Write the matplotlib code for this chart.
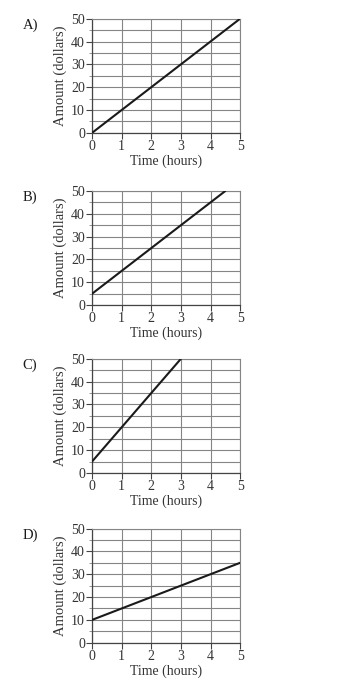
import matplotlib
matplotlib.use("Agg")
import matplotlib.pyplot as plt
import numpy as np

# answer choices: line endpoints (hours, dollars)
labels = ["A)", "B)", "C)", "D)"]
x_start = [0, 0, 0, 0]
y_start = [0, 5, 5, 10]
x_end = [5, 4.5, 3, 5]
y_end = [50, 50, 50, 35]

x_ticks = [0, 1, 2, 3, 4, 5]
y_ticks = [0, 10, 20, 30, 40, 50]

plt.rcParams["font.family"] = ["Liberation Serif", "DejaVu Serif"]

fig = plt.figure(figsize=(3.46, 6.92), dpi=100)

bottoms = [0.808, 0.559, 0.3165, 0.0712]
text_col = "#333333"
grid_col = "#858585"

for i in range(4):
    ax = fig.add_axes([0.266, bottoms[i], 0.428, 0.165])
    ax.plot([x_start[i], x_end[i]], [y_start[i], y_end[i]],
            color="#1a1a1a", lw=1.5, solid_capstyle="round", zorder=3)
    ax.set_xlim(0, 5)
    ax.set_ylim(0, 50)
    ax.set_xticks(x_ticks)
    ax.set_yticks(y_ticks)
    ax.set_yticks(np.arange(5, 50, 10), minor=True)
    ax.grid(True, which="both", color=grid_col, lw=0.8)
    ax.set_axisbelow(True)
    ax.tick_params(axis="both", which="major", length=4, width=0.8,
                   color="#444444", labelsize=10, labelcolor=text_col, pad=1)
    ax.tick_params(axis="y", which="minor", length=2, width=0.6, color=grid_col)
    for side in ["top", "right"]:
        ax.spines[side].set_color(grid_col)
        ax.spines[side].set_linewidth(0.8)
    for side in ["left", "bottom"]:
        ax.spines[side].set_color("#444444")
        ax.spines[side].set_linewidth(0.9)
    ax.set_xlabel("Time (hours)", fontsize=10, color=text_col, labelpad=1)
    ax.set_ylabel("Amount (dollars)", fontsize=10.5, color=text_col, labelpad=3)
    fig.text(0.065, bottoms[i] + 0.165 - 0.009, labels[i], fontsize=10.5,
             color="#1a1a1a", ha="left", va="center")

fig.savefig("out.png", dpi=100, facecolor="white")
